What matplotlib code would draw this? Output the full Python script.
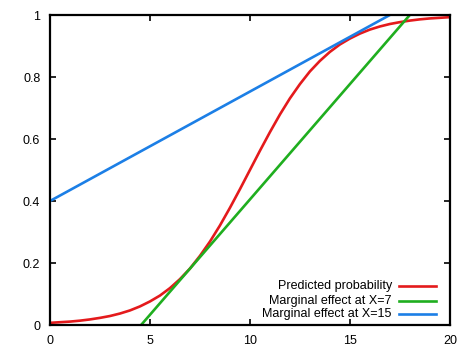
import matplotlib
matplotlib.use('Agg')
import matplotlib.pyplot as plt

plt.rcParams['font.family'] = ['Liberation Sans', 'DejaVu Sans']

# predicted probability
x_prob = [0, 0.5, 1, 1.5, 2, 2.5, 3, 3.5, 4, 4.5, 5, 5.5, 6, 6.5, 7, 7.5, 8, 8.5, 9, 9.5, 10,
          10.5, 11, 11.5, 12, 12.5, 13, 13.5, 14, 14.5, 15, 15.5, 16, 16.5, 17, 17.5, 18, 18.5, 19, 19.5, 20]
y_prob = [0.007, 0.009, 0.011, 0.014, 0.018, 0.023, 0.029, 0.037, 0.047, 0.060, 0.076, 0.095,
          0.119, 0.148, 0.182, 0.223, 0.269, 0.321, 0.378, 0.438, 0.500, 0.562, 0.622, 0.679,
          0.731, 0.777, 0.818, 0.852, 0.881, 0.905, 0.924, 0.940, 0.953, 0.963, 0.971, 0.977,
          0.982, 0.986, 0.989, 0.991, 0.993]

# tangent lines (end points)
x_me7 = [0, 20]
y_me7 = [-0.339, 1.149]
x_me15 = [0, 20]
y_me15 = [0.400, 1.106]

labels = ['Predicted probability', 'Marginal effect at X=7', 'Marginal effect at X=15']
colors = ['#e41a1c', '#1fae1f', '#1c7fe6']

fig = plt.figure(figsize=(4.74, 3.55), dpi=100)
ax = fig.add_axes([0.1055, 0.0845, 0.8435, 0.8732])

ax.plot(x_prob, y_prob, color=colors[0], lw=1.9)
ax.plot(x_me7, y_me7, color=colors[1], lw=1.9)
ax.plot(x_me15, y_me15, color=colors[2], lw=1.9)

ax.set_xlim(0, 20)
ax.set_ylim(0, 1)
ax.set_xticks([0, 5, 10, 15, 20])
ax.set_yticks([0, 0.2, 0.4, 0.6, 0.8, 1.0])
ax.set_yticklabels(['0', '0.2', '0.4', '0.6', '0.8', '1'])
ax.tick_params(direction='in', length=4, width=1.2, top=True, right=True,
               labelsize=9, pad=7)
for s in ax.spines.values():
    s.set_linewidth(1.6)

# legend drawn by hand, gnuplot style
ys = [0.126, 0.077, 0.035]
for lab, c, yy in zip(labels, colors, ys):
    ax.text(0.855, yy, lab, transform=ax.transAxes, ha='right', va='center', fontsize=9)
    ax.plot([0.873, 0.965], [yy, yy], transform=ax.transAxes, color=c, lw=1.9, clip_on=False)

plt.savefig('out.png', dpi=100)
